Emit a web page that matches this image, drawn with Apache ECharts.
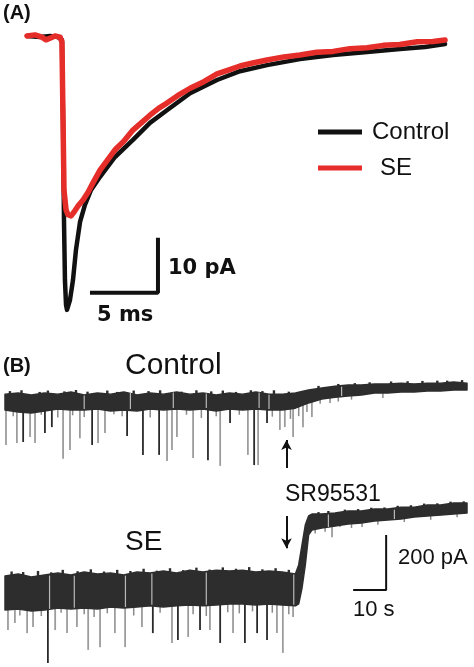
<!DOCTYPE html>
<html><head><meta charset="utf-8">
<script src="https://cdn.jsdelivr.net/npm/echarts@6/dist/echarts.min.js"></script>
<style>html,body{margin:0;padding:0;background:#fff}#c{width:474px;height:667px}</style>
</head><body><div id="c"></div>
<script>
// ---------- Panel A: averaged IPSC traces (time in ms, current in pA) ----------
const aCtrlT = [0, 0.96, 1.69, 2.28, 2.57, 2.65, 2.72, 2.79, 2.87, 2.94, 3.01, 3.16, 3.38, 3.60, 3.90, 4.26, 4.71, 5.37, 6.47, 7.79, 9.04, 10.29, 11.99, 13.97, 15.66, 17.65, 20.07, 22.5, 25.0, 27.43, 29.26, 30.74];
const aCtrlI = [0, -0.2, 0, -0.2, -0.7, -15.3, -33.5, -44.4, -48.9, -49.8, -49.6, -48.0, -44.4, -38.9, -33.8, -30.7, -28.0, -25.6, -22.0, -18.9, -15.8, -13.5, -10.4, -8.0, -6.4, -5.3, -4.2, -3.45, -2.9, -2.36, -2.0, -1.45];
const aSeT = [0, 0.59, 1.10, 1.40, 1.69, 2.06, 2.43, 2.57, 2.65, 2.72, 2.87, 3.01, 3.24, 3.46, 3.75, 4.12, 4.49, 4.85, 5.37, 5.9, 6.47, 7.1, 7.79, 8.4, 9.04, 9.7, 10.29, 11.1, 11.99, 13.0, 13.97, 14.8, 15.66, 16.6, 17.65, 18.9, 20.07, 21.3, 22.5, 23.75, 25.0, 26.2, 27.4, 28.7, 29.85, 30.74];
const aSeI = [0, 0.2, -0.2, -0.7, -0.4, 0, -0.2, -1.1, -15.3, -28.0, -31.6, -32.5, -32.7, -32.0, -30.9, -29.8, -28.4, -26.7, -24.4, -22.6, -20.7, -19.2, -17.1, -15.8, -14.4, -13.1, -12.2, -10.8, -9.5, -8.3, -6.9, -6.2, -5.45, -4.9, -4.36, -3.8, -3.45, -2.95, -2.8, -2.3, -2.15, -1.7, -1.55, -1.05, -1.0, -0.73];
const aScaleMs = 5, aScalePa = 10;

// ---------- Panel B: continuous recordings (time in s, current in pA, arbitrary offset) ----------
const bCtrlT   = [0,4,8,12,16,20,24,28,32,36,40,44,48,52,56,60,64,68,72,76,80,84,88,92,96,100,104,108,112,116,120,124,128,132,136,140];
const bCtrlTop = [985,989,982,989,985,993,982,989,985,993,982,989,985,993,985,989,982,989,985,993,985,985,989,1000,1007,1014,1018,1018,1022,1022,1025,1022,1025,1025,1029,1025];
const bCtrlBot = [927,920,916,924,931,927,927,931,924,927,924,931,927,931,927,931,924,931,927,931,927,927,934,953,967,974,978,982,989,989,993,993,996,996,1000,1000];

const bSeT   = [0,4,8,12,16,20,24,28,32,36,40,44,48,52,56,60,64,68,72,76,80,84,88,89,90,91,92,93,96,100,104,108,112,116,120,124,128,132,136,140];
const bSeTop = [324,331,320,327,335,327,338,331,335,327,338,335,342,335,345,338,345,342,345,338,342,338,331,364,436,509,542,549,549,553,560,560,567,567,574,574,582,582,589,589];
const bSeBot = [200,204,196,200,207,204,207,204,211,207,211,215,211,215,218,215,218,222,222,218,222,218,215,222,280,364,473,491,498,505,513,516,524,527,531,538,542,545,549,553];

// large downward synaptic events (tip current; 1 = dark, 0 = grey)
const bCtrlSpkT = [0.3,3.6,5.5,7.6,9.1,12.1,14.2,17.6,19.7,22.7,26.4,28.2,30.3,37.0,41.8,46.7,49.1,50.6,52.1,57.0,61.5,65.2,68.2,73.6,75.5,76.7,79.4,83.3,84.8,87.3,90.3,93.0,98.5,114.5];
const bCtrlSpkI = [800,807,811,829,807,844,865,750,782,825,800,807,844,833,764,764,742,782,829,753,745,724,880,764,727,727,880,855,865,829,865,902,953,971];
const bCtrlSpkDark = [0,0,1,0,0,1,1,0,0,0,1,0,0,1,1,1,0,0,0,0,1,0,1,0,1,0,1,0,0,0,0,0,0,0];
const bSeSpkT = [0.9,3.0,6.7,8.5,13.0,15.2,18.8,21.8,25.2,28.8,33.3,36.4,41.5,44.8,50.6,52.4,55.5,59.1,62.1,65.2,69.1,72.7,76.4,79.4,82.4,84.2,87.3,99.1,101.5,108.2];
const bSeSpkI = [127,153,116,138,7,127,116,138,55,65,116,65,138,116,80,91,102,127,127,80,116,80,116,91,116,44,175,465,502,502];
const bSeSpkDark = [0,0,0,0,1,0,0,0,0,0,0,0,0,1,0,1,0,1,0,1,0,1,1,1,0,0,0,0,0,0];

// small noise excursions above the band
const bCtrlUpT = [1.5,5,10.5,13,18,21.5,25,31,34,39,43.5,47,53.5,58,62.5,66,70,74.5,78,81.5,86,95,101,106,110.5,117,122,126.5,131,134,138.5];
const bCtrlUpI = [996,999,993,998,995,1000,994,998,993,998,996,999,994,999,995,998,993,999,996,999,994,1015,1022,1025,1028,1031,1032,1033,1034,1034,1036];
const bSeUpT = [2,5.5,10,14,17.5,22,26,30,34,38,42,46,50,54,58,62,66,70,74,78,82,86,95,98,103,107,111,115,119,123,127,131,135,139];
const bSeUpI = [340,338,342,337,346,341,348,340,346,342,350,343,352,345,354,347,355,350,356,348,352,346,556,560,565,567,572,573,579,581,587,588,594,595];
// small noise excursions below the band
const bCtrlDnT = [2.5,11,16,20.5,24,33,35.5,44,55,59.5,64,71,81,86.5,89,91.5,95.5,101,105];
const bCtrlDnI = [905,910,900,908,902,912,905,900,910,898,905,910,903,895,905,920,950,958,965];
const bSeDnT = [4.5,11,17,24,27,31,39,47,57,61,67.5,71,75,81,86,94,97,105,113,121,129,137];
const bSeDnI = [180,178,190,185,175,188,180,190,185,178,192,188,195,190,185,478,485,498,510,520,528,537];
// light stimulus artefacts crossing the band
const bCtrlArtT = [24, 38, 51, 61, 77, 80, 102];
const bSeArtT = [13.5, 21, 36.5, 44.5, 61, 87.5, 98, 118];

const bScaleS = 10, bScalePa = 200;
const drugTime = 85.3;

// ---------- build ----------
const zip = (a, b) => a.map((v, i) => [v, b[i]]);
function nearestIdx(T, t) {
  let k = 0, d = Infinity;
  T.forEach((v, i) => { if (Math.abs(v - t) < d) { d = Math.abs(v - t); k = i; } });
  return k;
}
const midOf = (T, top, bot, t) => { const k = nearestIdx(T, t); return (top[k] + bot[k]) / 2; };
// [t, base, tip, style]  style: 0 grey event, 1 dark event, 2 dark tick, 3 grey tick, 4 artefact
const spikeData = [];
bCtrlSpkT.forEach((t, i) => spikeData.push([t, midOf(bCtrlT, bCtrlTop, bCtrlBot, t), bCtrlSpkI[i], bCtrlSpkDark[i]]));
bSeSpkT.forEach((t, i) => spikeData.push([t, midOf(bSeT, bSeTop, bSeBot, t), bSeSpkI[i], bSeSpkDark[i]]));
bCtrlDnT.forEach((t, i) => spikeData.push([t, midOf(bCtrlT, bCtrlTop, bCtrlBot, t), bCtrlDnI[i], 3]));
bSeDnT.forEach((t, i) => spikeData.push([t, midOf(bSeT, bSeTop, bSeBot, t), bSeDnI[i], 3]));
const upData = [];
bCtrlUpT.forEach((t, i) => upData.push([t, midOf(bCtrlT, bCtrlTop, bCtrlBot, t), bCtrlUpI[i], 2]));
bSeUpT.forEach((t, i) => upData.push([t, midOf(bSeT, bSeTop, bSeBot, t), bSeUpI[i], 2]));
const artData = [];
bCtrlArtT.forEach(t => { const k = nearestIdx(bCtrlT, t); artData.push([t, bCtrlBot[k] + 4, bCtrlTop[k] - 2, 4]); });
bSeArtT.forEach(t => { const k = nearestIdx(bSeT, t); artData.push([t, bSeBot[k] + 4, bSeTop[k] - 2, 4]); });

const BAND = '#2d2d2d';
const STY = [
  {stroke: '#9c9c9c', lineWidth: 1.8},
  {stroke: '#2a2a2a', lineWidth: 1.8},
  {stroke: '#2d2d2d', lineWidth: 2.4},
  {stroke: '#8a8a8a', lineWidth: 1.5},
  {stroke: '#b8b8b8', lineWidth: 1.2}
];
function tickRender(params, api) {
  const p1 = api.coord([api.value(0), api.value(1)]);
  const p2 = api.coord([api.value(0), api.value(2)]);
  const s = STY[api.value(3)];
  return {type: 'line', shape: {x1: p1[0], y1: p1[1], x2: p2[0], y2: p2[1]},
          style: {stroke: s.stroke, lineWidth: s.lineWidth}};
}
function bandSeries(name, T, top, bot) {
  return {name: name, type: 'custom', xAxisIndex: 1, yAxisIndex: 1, data: [[T[0], top[0]]], z: 3,
    renderItem: function (params, api) {
      const pts = [];
      T.forEach((t, i) => pts.push(api.coord([t, top[i]])));
      for (let i = T.length - 1; i >= 0; i--) pts.push(api.coord([T[i], bot[i]]));
      return {type: 'polygon', shape: {points: pts},
              style: {fill: BAND, stroke: BAND, lineWidth: 1.5, lineJoin: 'round'}};
    }};
}

const chart = echarts.init(document.getElementById('c'), null, {renderer: 'canvas'});
const aBarX = 9.63, aBarY = -46.7;
const bBarX = 115.5, bBarY = 273;

chart.setOption({
  animation: false,
  backgroundColor: '#fff',
  grid: [
    {left: 27, top: 14, width: 421.6, height: 308},
    {left: 5, top: 362.5, width: 462, height: 302.5}
  ],
  xAxis: [
    {type: 'value', gridIndex: 0, min: 0, max: 31, show: false},
    {type: 'value', gridIndex: 1, min: 0, max: 140, show: false}
  ],
  yAxis: [
    {type: 'value', gridIndex: 0, min: -52, max: 4, show: false},
    {type: 'value', gridIndex: 1, min: 0, max: 1100, show: false}
  ],
  legend: {
    orient: 'vertical', left: 313, top: 115, itemWidth: 44, itemHeight: 5, itemGap: 12,
    icon: 'rect',
    textStyle: {fontSize: 24, fontFamily: 'Liberation Sans, Arial', color: '#111', padding: [0, 0, 0, 5]},
    data: [{name: 'Control'}, {name: 'SE', textStyle: {padding: [0, 0, 0, 13]}}]
  },
  series: [
    {name: 'Control', type: 'line', xAxisIndex: 0, yAxisIndex: 0, data: zip(aCtrlT, aCtrlI),
     showSymbol: false, color: '#111', lineStyle: {width: 4.5, color: '#111', cap: 'round', join: 'round'}, z: 3},
    {name: 'SE', type: 'line', xAxisIndex: 0, yAxisIndex: 0, data: zip(aSeT, aSeI),
     showSymbol: false, color: '#e52d2a', lineStyle: {width: 5.5, color: '#e52d2a', cap: 'round', join: 'round'}, z: 4},
    {name: 'scaleA', type: 'line', xAxisIndex: 0, yAxisIndex: 0,
     data: [[aBarX - aScaleMs, aBarY], [aBarX, aBarY], [aBarX, aBarY + aScalePa]],
     showSymbol: false, lineStyle: {width: 4, color: '#111'}, z: 3},
    {name: 'events', type: 'custom', xAxisIndex: 1, yAxisIndex: 1, data: spikeData, z: 2, renderItem: tickRender},
    {name: 'upNoise', type: 'custom', xAxisIndex: 1, yAxisIndex: 1, data: upData, z: 2, renderItem: tickRender},
    bandSeries('ctrlBand', bCtrlT, bCtrlTop, bCtrlBot),
    bandSeries('seBand', bSeT, bSeTop, bSeBot),
    {name: 'artefacts', type: 'custom', xAxisIndex: 1, yAxisIndex: 1, data: artData, z: 4, renderItem: tickRender},
    {name: 'scaleB', type: 'line', xAxisIndex: 1, yAxisIndex: 1,
     data: [[bBarX - bScaleS, bBarY], [bBarX, bBarY], [bBarX, bBarY + bScalePa]],
     showSymbol: false, lineStyle: {width: 2, color: '#111'}, z: 3,
     markLine: {silent: true, symbol: ['none', 'arrow'], symbolSize: [8, 10], label: {show: false},
       lineStyle: {type: 'solid', color: '#111', width: 2},
       data: [
         [{coord: [drugTime, 716]}, {coord: [drugTime, 818]}],
         [{coord: [drugTime, 542]}, {coord: [drugTime, 425]}]
       ]}}
  ],
  graphic: [
    {type: 'text', x: 3, y: 13, style: {text: '(A)', font: 'bold 20px Liberation Sans', fill: '#111', textVerticalAlign: 'middle', verticalAlign: 'middle'}},
    {type: 'text', x: 168, y: 269, style: {text: '10 pA', font: 'bold 21px DejaVu Sans', fill: '#111', textVerticalAlign: 'middle', verticalAlign: 'middle'}},
    {type: 'text', x: 97, y: 316, style: {text: '5 ms', font: 'bold 21px DejaVu Sans', fill: '#111', textVerticalAlign: 'middle', verticalAlign: 'middle'}},
    {type: 'text', x: 3, y: 366, style: {text: '(B)', font: 'bold 20px Liberation Sans', fill: '#111', textVerticalAlign: 'middle', verticalAlign: 'middle'}},
    {type: 'text', x: 125, y: 366, style: {text: 'Control', font: '30px Liberation Sans', fill: '#111', textVerticalAlign: 'middle', verticalAlign: 'middle'}},
    {type: 'text', x: 125, y: 542, style: {text: 'SE', font: '28px Liberation Sans', fill: '#111', textVerticalAlign: 'middle', verticalAlign: 'middle'}},
    {type: 'text', x: 285, y: 495, style: {text: 'SR95531', font: '23px Liberation Sans', fill: '#111', textVerticalAlign: 'middle', verticalAlign: 'middle'}},
    {type: 'text', x: 398, y: 558, style: {text: '200 pA', font: '22px Liberation Sans', fill: '#111', textVerticalAlign: 'middle', verticalAlign: 'middle'}},
    {type: 'text', x: 353, y: 610, style: {text: '10 s', font: '22px Liberation Sans', fill: '#111', textVerticalAlign: 'middle', verticalAlign: 'middle'}}
  ]
});
</script></body></html>
